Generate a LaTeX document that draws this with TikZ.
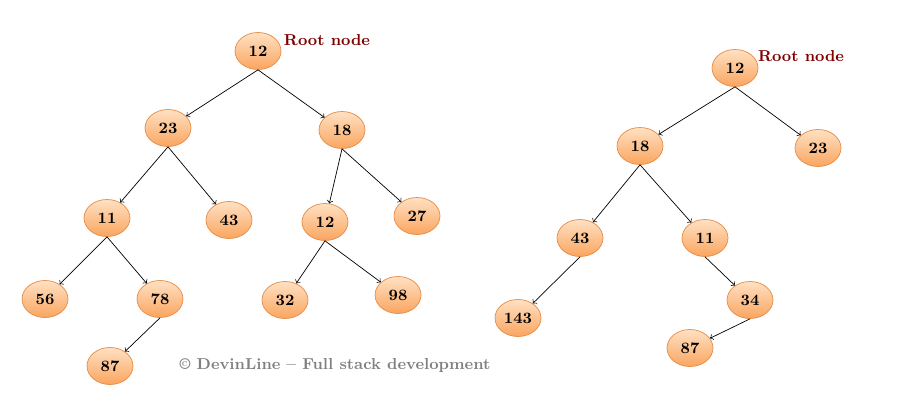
\documentclass[tikz,border=0pt]{standalone}
\usepackage{tikz}
\usetikzlibrary{shapes.geometric}
\definecolor{nodeline}{RGB}{230,140,70}
\definecolor{nodetop}{RGB}{255,225,195}
\definecolor{nodebot}{RGB}{250,165,95}
\definecolor{rootred}{RGB}{128,0,0}
\tikzset{
  bnode/.style={ellipse,draw=nodeline,top color=nodetop,bottom color=nodebot,
    minimum width=0.92cm,minimum height=0.74cm,inner sep=0pt,font=\bfseries\small},
  bedge/.style={->,>=to,thin},
  rootlabel/.style={text=rootred,font=\bfseries\small}
}
\begin{document}
\begin{tikzpicture}[x=0.02cm,y=-0.02cm]
\useasboundingbox (0,0) rectangle (902,409);
% left tree
\node[bnode] (L12) at (258,51) {12};
\node[bnode] (L23) at (168,128) {23};
\node[bnode] (L18) at (342,130) {18};
\node[bnode] (L11) at (107,218) {11};
\node[bnode] (L43) at (229,220) {43};
\node[bnode] (L12b) at (325,222) {12};
\node[bnode] (L27) at (417,216) {27};
\node[bnode] (L56) at (45,299) {56};
\node[bnode] (L78) at (160,299) {78};
\node[bnode] (L32) at (285,300) {32};
\node[bnode] (L98) at (398,295) {98};
\node[bnode] (L87) at (110,366) {87};
\node[rootlabel] (Lroot) at (327,40) {Root node};
\draw[bedge] (L12.south) -- (L23);
\draw[bedge] (L12.south) -- (L18);
\draw[bedge] (L23.south) -- (L11);
\draw[bedge] (L23.south) -- (L43);
\draw[bedge] (L18.south) -- (L12b);
\draw[bedge] (L18.south) -- (L27);
\draw[bedge] (L11.south) -- (L56);
\draw[bedge] (L11.south) -- (L78);
\draw[bedge] (L12b.south) -- (L32);
\draw[bedge] (L12b.south) -- (L98);
\draw[bedge] (L78.south) -- (L87);
% right tree
\node[bnode] (R12) at (735,68) {12};
\node[bnode] (R18) at (640,146) {18};
\node[bnode] (R23) at (818,148) {23};
\node[bnode] (R43) at (580,238) {43};
\node[bnode] (R11) at (705,238) {11};
\node[bnode] (R143) at (518,318) {143};
\node[bnode] (R34) at (750,300) {34};
\node[bnode] (R87) at (690,348) {87};
\node[rootlabel] (Rroot) at (801,56) {Root node};
\draw[bedge] (R12.south) -- (R18);
\draw[bedge] (R12.south) -- (R23);
\draw[bedge] (R18.south) -- (R43);
\draw[bedge] (R18.south) -- (R11);
\draw[bedge] (R43.south) -- (R143);
\draw[bedge] (R11.south) -- (R34);
\draw[bedge] (R34.south) -- (R87);
\node[text=gray,font=\bfseries\small] (credit) at (335,366) {\textcopyright{} DevinLine -- Full stack development};
\end{tikzpicture}
\end{document}
